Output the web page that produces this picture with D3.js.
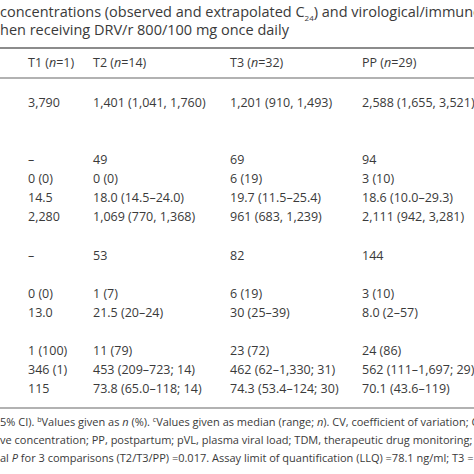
<!DOCTYPE html>
<html lang="en">
<head>
<meta charset="UTF-8">
<style>
  body { margin: 0; background: #fff; overflow: hidden; }
  svg text { font-family: "Open Sans", "Noto Sans", sans-serif; fill: #3a3a3a; }
</style>
</head>
<body>
<svg id="chart" width="474" height="474"></svg>
<script src="https://d3js.org/d3.v7.min.js"></script>
<script>
const titleLines = [
  ["concentrations (observed and extrapolated C", "24", ") and virological/immunological"],
  ["hen receiving DRV/r 800/100 mg once daily"]
];
const columns = ["T1", "T2", "T3", "PP"];
const columnN = [1, 14, 32, 29];

// null = blank spacer row
const t1 = ["3,790", null, null, "–", "0 (0)", "14.5", "2,280", null, "–", null, "0 (0)", "13.0", null, "1 (100)", "346 (1)", "115"];
const t2 = ["1,401 (1,041, 1,760)", null, null, "49", "0 (0)", "18.0 (14.5–24.0)", "1,069 (770, 1,368)", null, "53", null, "1 (7)", "21.5 (20–24)", null, "11 (79)", "453 (209–723; 14)", "73.8 (65.0–118; 14)"];
const t3 = ["1,201 (910, 1,493)", null, null, "69", "6 (19)", "19.7 (11.5–25.4)", "961 (683, 1,239)", null, "82", null, "6 (19)", "30 (25–39)", null, "23 (72)", "462 (62–1,330; 31)", "74.3 (53.4–124; 30)"];
const pp = ["2,588 (1,655, 3,521)", null, null, "94", "3 (10)", "18.6 (10.0–29.3)", "2,111 (942, 3,281)", null, "144", null, "3 (10)", "8.0 (2–57)", null, "24 (86)", "562 (111–1,697; 29)", "70.1 (43.6–119)"];
const footnotes = [
  [["5% CI). ", ""], ["b", "sup"], ["Values given as ", ""], ["n", "i"], [" (%). ", ""], ["c", "sup"], ["Values given as median (range; ", ""], ["n", "i"], ["). CV, coefficient of variation; C", ""], ["24", "sub"]],
  [["ve concentration; PP, postpartum; pVL, plasma viral load; TDM, therapeutic drug monitoring; T1, f", ""]],
  [["al ", ""], ["P", "i"], [" for 3 comparisons (T2/T3/PP) =0.017. Assay limit of quantification (LLQ) =78.1 ng/ml; T3 = on", ""]]
];

const svg = d3.select("#chart");
const W = 474;
const colData = [t1, t2, t3, pp];
const x = d3.scaleOrdinal().domain(columns).range([28, 93, 230, 362]);
const y = d3.scaleLinear().domain([0, t1.length - 1]).range([103, 389]);

// title
titleLines.forEach((parts, i) => {
  const t = svg.append("text").attr("x", 0).attr("y", 17 + i * 18).attr("font-size", 14.5);
  t.append("tspan").text(parts[0]);
  if (parts.length > 1) {
    t.append("tspan").attr("font-size", 8).attr("dy", 4).text(parts[1]);
    t.append("tspan").attr("dy", -4).text(parts[2]);
  }
});

// rules
[[48, 1.6], [78, 1.2], [408, 1.2]].forEach(([yy, w]) => {
  svg.append("line").attr("x1", 0).attr("x2", W).attr("y1", yy).attr("y2", yy)
    .attr("stroke", "#666").attr("stroke-width", w);
});

// header
columns.forEach((c, i) => {
  const t = svg.append("text").attr("x", x(c)).attr("y", 67).attr("font-size", 12.5);
  t.append("tspan").text(c + " (");
  t.append("tspan").attr("font-style", "italic").text("n");
  t.append("tspan").text("=" + columnN[i] + ")");
});

// body
columns.forEach((c, ci) => {
  svg.append("g").selectAll("text")
    .data(colData[ci].map((v, i) => ({ v, i })).filter(d => d.v !== null))
    .join("text")
    .attr("x", x(c))
    .attr("y", d => y(d.i) + 4)
    .attr("font-size", 12.5)
    .text(d => d.v);
});

// footnotes
footnotes.forEach((parts, i) => {
  const t = svg.append("text").attr("x", 0).attr("y", 426 + i * 18).attr("font-size", 11);
  parts.forEach(([s, k]) => {
    const ts = t.append("tspan").text(s);
    if (k === "i") ts.attr("font-style", "italic");
    if (k === "sup") ts.attr("font-size", 7).attr("baseline-shift", "super");
    if (k === "sub") ts.attr("font-size", 7).attr("baseline-shift", "sub");
  });
});
</script>
</body>
</html>
